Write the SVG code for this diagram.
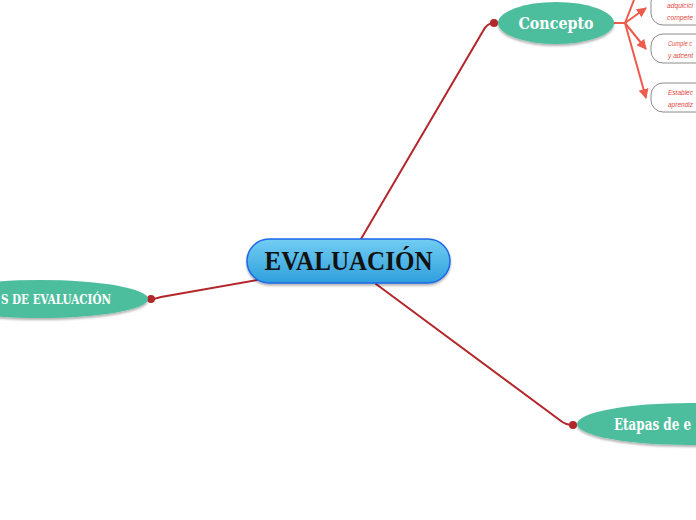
<svg xmlns="http://www.w3.org/2000/svg" width="696" height="520" viewBox="0 0 696 520">
<style>
.conn{fill:none;stroke:#b3262a;stroke-width:2;stroke-linecap:round}
.fan{fill:none;stroke:#ee5a4c;stroke-width:2}
.dot{fill:#b3262a}
.green{fill:#4dbe9d}
.gtext{font-family:"DejaVu Serif","Liberation Serif",serif;font-weight:bold;fill:#fff}
.box{fill:#fff;stroke:#8c8c8c;stroke-width:1}
.btext{font-family:"Liberation Sans",sans-serif;font-style:italic;font-size:7.5px;fill:#e5473f}
</style>
<defs>
<linearGradient id="blue" x1="0" y1="0" x2="0" y2="1">
<stop offset="0" stop-color="#72cdf3"/>
<stop offset="1" stop-color="#2f9fdc"/>
</linearGradient>
<filter id="sh" x="-10%" y="-20%" width="120%" height="160%">
<feDropShadow dx="0" dy="2" stdDeviation="1.2" flood-color="#000" flood-opacity="0.3"/>
</filter>
<marker id="arr" viewBox="0 0 10 10" refX="9" refY="5" markerWidth="5" markerHeight="5" orient="auto">
<path d="M0,0 L10,5 L0,10 z" fill="#ee5a4c"/>
</marker>
</defs>
<g id="connectors">
<path class="conn" d="M361,239 L483,31 Q487,23 494,23"/>
<path class="conn" d="M257,280 L161,297 Q155,299 151,299"/>
<path class="conn" d="M376,284 L561,421 Q566,425 573,425"/>
<circle class="dot" cx="494" cy="23" r="4"/>
<circle class="dot" cx="151" cy="299" r="4"/>
<circle class="dot" cx="573" cy="425" r="4"/>
<path class="fan" d="M614,23 L625,23"/>
<path class="fan" d="M625,23 L634,0"/>
<path class="fan" d="M625,23 L646,8" marker-end="url(#arr)"/>
<path class="fan" d="M625,23 L646,49" marker-end="url(#arr)"/>
<path class="fan" d="M625,23 L646,98" marker-end="url(#arr)"/>
</g>
<g id="node-center">
<rect x="247" y="239" width="203" height="44" rx="22" fill="url(#blue)" stroke="#1d67e6" stroke-width="1.5" filter="url(#sh)"/>
<text x="348.5" y="270" text-anchor="middle" font-family="'Liberation Serif',serif" font-weight="bold" font-size="28" textLength="168" lengthAdjust="spacingAndGlyphs" fill="#111">EVALUACIÓN</text>
</g>
<g id="node-concepto">
<ellipse class="green" cx="556" cy="23" rx="58" ry="21" filter="url(#sh)"/>
<text class="gtext" x="556" y="29" text-anchor="middle" font-size="17" textLength="75" lengthAdjust="spacingAndGlyphs">Concepto</text>
</g>
<g id="node-tipos">
<ellipse class="green" cx="40" cy="299" rx="108" ry="19" filter="url(#sh)"/>
<text class="gtext" x="111" y="303.5" text-anchor="end" font-size="12" textLength="110" lengthAdjust="spacingAndGlyphs">S DE EVALUACIÓN</text>
</g>
<g id="node-etapas">
<ellipse class="green" cx="690" cy="424" rx="113" ry="21" filter="url(#sh)"/>
<text class="gtext" x="614" y="430" font-size="16" textLength="77" lengthAdjust="spacingAndGlyphs">Etapas de e</text>
</g>
<g id="box-1">
<rect class="box" x="651" y="-10" width="80" height="35" rx="12"/>
<text class="btext" x="667" y="8" textLength="26" lengthAdjust="spacingAndGlyphs">adquicici</text>
<text class="btext" x="667" y="20" textLength="26" lengthAdjust="spacingAndGlyphs">compete</text>
</g>
<g id="box-2">
<rect class="box" x="651" y="34" width="80" height="29" rx="12"/>
<text class="btext" x="668" y="46" textLength="24" lengthAdjust="spacingAndGlyphs">Cumple c</text>
<text class="btext" x="668" y="58" textLength="25" lengthAdjust="spacingAndGlyphs">y adcent</text>
</g>
<g id="box-3">
<rect class="box" x="651" y="83" width="80" height="29" rx="12"/>
<text class="btext" x="668" y="95" textLength="25" lengthAdjust="spacingAndGlyphs">Establec</text>
<text class="btext" x="668" y="107" textLength="25" lengthAdjust="spacingAndGlyphs">aprendiz</text>
</g>
</svg>
